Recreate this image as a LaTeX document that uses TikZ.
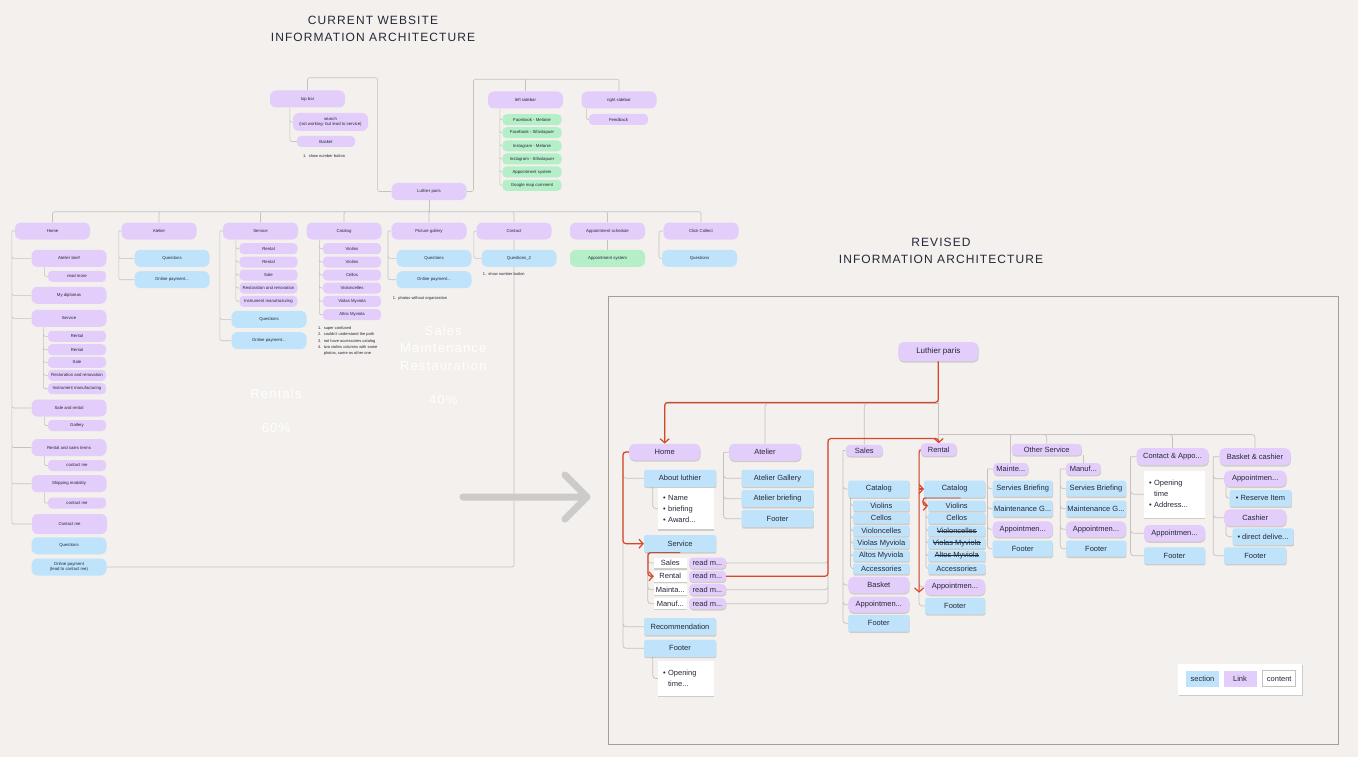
\documentclass[tikz,border=0pt]{standalone}
\usepackage{fontspec}
\setmainfont{Liberation Sans}
\newfontfamily\widefont[LetterSpace=9]{Liberation Sans}
\usetikzlibrary{arrows.meta,
    shadows,
    positioning}
\definecolor{paper}{HTML}{F3F0ED}
\definecolor{lilac}{HTML}{E3CDFA}
\definecolor{sky}{HTML}{BEE3FA}
\definecolor{mint}{HTML}{B4EFC8}
\definecolor{wiregray}{HTML}{C6C2BE}
\definecolor{rust}{HTML}{D9472B}
\definecolor{ink}{HTML}{252838}
\definecolor{framegray}{HTML}{A29E9A}
\definecolor{arrowgray}{HTML}{CDCBC9}
\pgfdeclarelayer{paperlayer}
\pgfdeclarelayer{wirelayer}
\pgfsetlayers{paperlayer,wirelayer,main}
\newcommand{\tinyfs}{\fontsize{4.3}{5.1}\selectfont}
\newcommand{\notefs}{\fontsize{4}{6.2}\selectfont}
\newcommand{\boxfs}{\fontsize{7.5}{11}\selectfont}
\newcommand{\titlefs}{\widefont\fontsize{12}{17}\selectfont}
\newcommand{\ghostfs}{\widefont\fontsize{13}{17.3}\selectfont}
\newcommand{\struck}[1]{\setbox0\hbox{#1}\rlap{\rule[0.3em]{\wd0}{0.55pt}}\box0}
\tikzset{
  oldlink/.style={fill=lilac, rounded corners=6pt, minimum width=75pt, minimum height=17pt, inner sep=0pt, font=\tinyfs, text=ink, align=center},
  oldsec/.style={oldlink, fill=sky},
  oldsub/.style={fill=lilac, rounded corners=4pt, minimum width=58pt, minimum height=11pt, inner sep=0pt, font=\tinyfs, text=ink},
  oldapp/.style={oldsub, fill=mint, minimum width=59pt},
  note/.style={anchor=west, inner sep=0pt, font=\notefs, text=ink, align=left},
  wire/.style={draw=wiregray, line width=0.6pt, rounded corners=2pt},
  wire2/.style={draw=wiregray, line width=0.75pt, rounded corners=3pt},
  redarrow/.style={draw=rust, line width=1.2pt, rounded corners=3pt, -{Straight Barb[length=4pt,width=9pt]}},
  soft/.style={drop shadow={shadow xshift=0.4pt, shadow yshift=-1.4pt, fill=black, opacity=0.15}},
  newlink/.style={soft, fill=lilac, rounded corners=5pt, minimum width=61pt, minimum height=16.5pt, inner sep=0pt, font=\boxfs, text=ink},
  newsec/.style={soft, fill=sky, rounded corners=1.5pt, minimum width=61pt, minimum height=16.5pt, inner sep=0pt, font=\boxfs, text=ink},
  newtext/.style={soft, fill=white, inner sep=0pt, font=\boxfs, text=ink, align=left},
  rowsec/.style={newsec, minimum width=56pt, minimum height=10.6pt, rounded corners=1pt},
  rowbox/.style={newtext, minimum width=32.7pt, minimum height=10.7pt, align=center},
  morelink/.style={newlink, minimum width=37pt, minimum height=11pt, rounded corners=4pt},
  legkey/.style={inner sep=0pt, minimum width=33pt, minimum height=16pt, font=\boxfs, text=ink},
  title/.style={font=\titlefs, text=ink, align=center},
  ghost/.style={font=\ghostfs, text=white, align=center},
}

\begin{document}
\begin{tikzpicture}[x=1pt, y=-1pt]
\begin{pgfonlayer}{paperlayer}
  \fill[paper] (0,0) rectangle (1358,757);
\end{pgfonlayer}
\useasboundingbox (0,0) rectangle (1358,757);

\node[title] (oldtitle) at (373,28.5) {CURRENT WEBSITE\\INFORMATION ARCHITECTURE};
\node[title] (newtitle) at (941,251) {REVISED\\INFORMATION ARCHITECTURE};

% current website: header and sidebars
\node[oldlink] (topbar) at (307.5,99) {top bar};
\node[oldlink, minimum height=18pt] (search) at (330.5,122) {search\\(not working- but lead to service)};
\node[oldsub] (basket) at (326,141.5) {Basket};
\node[note] (basketnote) at (303,155.7) {1.\ \ show number button};
\node[oldlink] (leftbar) at (525.5,100) {left sidebar};
\node[oldlink] (rightbar) at (619,100) {right sidebar};
\node[oldapp] (fbmel) at (532,119.7) {Facebook - Melanie};
\node[oldapp] (fbsif) at (532,132.7) {Facebook - Sifaslapuer};
\node[oldapp] (igmel) at (532,146) {Instagram - Melanie};
\node[oldapp] (igsif) at (532,159) {Instagram - Sifaslapuer};
\node[oldapp] (sideappt) at (532,172) {Appointment system};
\node[oldapp] (gmap) at (532,185.3) {Google map comment};
\node[oldsub, minimum width=59pt] (feedback) at (618.5,119.5) {Feedback};
\node[oldlink] (oldroot) at (429,191.5) {Luthier paris};

% current website: main menu
\node[oldlink] (home) at (52.5,231) {Home};
\node[oldlink] (atelier) at (159,231) {Atelier};
\node[oldlink] (service) at (260.5,231) {Service};
\node[oldlink] (catalog) at (344,231) {Catalog};
\node[oldlink] (gallery) at (429,231) {Picture gallery};
\node[oldlink] (contact) at (514,231) {Contact};
\node[oldlink] (schedule) at (607.5,231) {Appointment schedule};
\node[oldlink] (click) at (701,231) {Click Collect};

\node[oldlink] (brief) at (69,258.3) {Atelier brief};
\node[oldsub] (briefmore) at (77,276.3) {read more};
\node[oldlink] (diplomas) at (69,295.3) {My diplomas};
\node[oldlink] (homeserv) at (69,318.3) {Service};
\node[oldsub] (hsrent) at (77,336.3) {Rental};
\node[oldsub] (hsrent2) at (77,349.7) {Rental};
\node[oldsub] (hssale) at (77,362.3) {Sale};
\node[oldsub] (hsresto) at (77,375.3) {Restoration and renovation};
\node[oldsub] (hsmanuf) at (77,388.7) {Instrument manufacturing};
\node[oldlink] (salerent) at (69,408) {Sale and rental};
\node[oldsub] (hgallery) at (77,425.5) {Gallery};
\node[oldlink] (terms) at (69,447.5) {Rental and sales terms};
\node[oldsub] (termsmail) at (77,465.5) {contact me};
\node[oldlink] (shipping) at (69,483.7) {Shipping modality};
\node[oldsub] (shipmail) at (77,503) {contact me};
\node[oldlink, minimum height=20pt] (contactme) at (69.5,524) {Contact me};
\node[oldsec] (homequest) at (69,545.8) {Questions};
\node[oldsec] (homepay) at (69,567) {Online payment\\(lead to contact me)};

\node[oldsec] (atquest) at (172,258.3) {Questions};
\node[oldsec] (atpay) at (172,279.7) {Online payment...};

\node[oldsub] (svrent) at (268.5,248.7) {Rental};
\node[oldsub] (svrent2) at (268.5,262) {Rental};
\node[oldsub] (svsale) at (268.5,275) {Sale};
\node[oldsub] (svresto) at (268.5,288) {Restoration and renovation};
\node[oldsub] (svmanuf) at (268.5,301.3) {Instrument manufacturing};
\node[oldsec] (svquest) at (269,319.3) {Questions};
\node[oldsec] (svpay) at (269,340.7) {Online payment...};

\node[oldsub] (ctviol) at (352,248.7) {Violins};
\node[oldsub] (ctviol2) at (352,262) {Violins};
\node[oldsub] (ctcello) at (352,275) {Cellos};
\node[oldsub] (ctvcello) at (352,288) {Violoncelles};
\node[oldsub] (ctviola) at (352,301.3) {Violas Myviola};
\node[oldsub] (ctalto) at (352,314.7) {Altos Myviola};
\node[note, anchor=north west] (catnote) at (318,326.6) {1.\ \ super confused\\2.\ \ couldn't understand the path\\3.\ \ not have accessories catalog\\4.\ \ two violins columns with same\\\phantom{4.\ \ }photos, same as other one};

\node[oldsec] (galquest) at (434,258.3) {Questions};
\node[oldsec] (galpay) at (434,279.7) {Online payment...};
\node[note] (galnote) at (392.7,298.7) {1.\ \ photos without organization};
\node[oldsec] (conquest) at (519,258.3) {Questions\_2};
\node[note] (connote) at (482.7,274) {1.\ \ show number button};
\node[oldsec, fill=mint] (schedsys) at (607.5,258.3) {Appointment system};
\node[oldsec] (clquest) at (699.5,258.3) {Questions};

\node[ghost] (rentals) at (276,394) {Rentals};
\node[ghost] (rentshare) at (276,428.3) {60\%};
\node[ghost] (salesmix) at (443.3,348.3) {Sales\\Maintenance\\Restauration};
\node[ghost] (salesshare) at (443.3,400) {40\%};

\draw[arrowgray, line width=7pt, line cap=round, line join=round] (463,497) -- (586,497) (565,475) -- (587,497) -- (565,519);
\draw[framegray, line width=0.8pt] (608,296) rectangle (1338,744);

% revised architecture
\node[newlink, minimum width=80pt, minimum height=19pt, font=\fontsize{8}{9}\selectfont] (newroot) at (938.3,351.7) {Luthier paris};

\node[newlink, minimum width=71pt] (nhome) at (664.7,452) {Home};
\node[newsec, minimum width=72pt, minimum height=17pt] (nabout) at (680,478.3) {About luthier};
\node[newtext, text width=46pt, inner xsep=5pt, minimum height=41pt] (naboutinfo) at (686,508.7) {\textbullet\ Name\\\textbullet\ briefing\\\textbullet\ Award...};
\node[newsec, minimum width=72pt, minimum height=17pt] (nservice) at (680,543.7) {Service};
\node[rowbox] (nrowsales) at (670.3,563) {Sales};
\node[rowbox] (nrowrent) at (670.3,576.3) {Rental};
\node[rowbox] (nrowmaint) at (670.3,589.7) {Mainta...};
\node[rowbox] (nrowmanuf) at (670.3,603.7) {Manuf...};
\node[morelink] (nmoresales) at (707.5,563) {read m...};
\node[morelink] (nmorerent) at (707.5,576.3) {read m...};
\node[morelink] (nmoremaint) at (707.5,589.7) {read m...};
\node[morelink] (nmoremanuf) at (707.5,603.7) {read m...};
\node[newsec, minimum width=72pt, minimum height=17pt] (nrecom) at (680,626.7) {Recommendation};
\node[newsec, minimum width=72pt, minimum height=17pt] (nfooter) at (680,648.3) {Footer};
\node[newtext, text width=46pt, inner xsep=5pt, minimum height=35pt] (nfooterinfo) at (686,678.5) {\textbullet\ Opening\\\phantom{\textbullet\ }time...};

\node[newlink, minimum width=72pt, minimum height=17pt] (natelier) at (765,452.3) {Atelier};
\node[newsec, minimum width=72pt, minimum height=17pt] (natgallery) at (777.5,478.3) {Atelier Gallery};
\node[newsec, minimum width=72pt, minimum height=17pt] (natbrief) at (777.5,498.7) {Atelier briefing};
\node[newsec, minimum width=72pt, minimum height=17pt] (natfooter) at (777.5,518.7) {Footer};

\node[newlink, minimum width=37pt, minimum height=11.5pt, rounded corners=4pt] (nsales) at (864.3,450.5) {Sales};
\node[newsec, minimum height=17pt] (nscatalog) at (878.8,489) {Catalog};
\node[rowsec] (nsviolins) at (881.3,505.8) {Violins};
\node[rowsec] (nscellos) at (881.3,518.3) {Cellos};
\node[rowsec] (nsvcellos) at (881.3,531) {Violoncelles};
\node[rowsec] (nsviolas) at (881.3,543.3) {Violas Myviola};
\node[rowsec] (nsaltos) at (881.3,556) {Altos Myviola};
\node[rowsec] (nsaccess) at (881.3,568.8) {Accessories};
\node[newlink] (nsbasket) at (878.8,585) {Basket};
\node[newlink, minimum height=16pt] (nsappt) at (878.8,604.7) {Appointmen...};
\node[newsec] (nsfooter) at (878.8,623.3) {Footer};

\node[newlink, minimum width=36pt, minimum height=12.5pt, rounded corners=4pt] (nrental) at (938.7,449.7) {Rental};
\node[newsec, minimum height=17pt] (nrcatalog) at (954.7,489) {Catalog};
\node[rowsec, minimum width=57pt] (nrviolins) at (956.7,505.8) {Violins};
\node[rowsec, minimum width=57pt] (nrcellos) at (956.7,518.3) {Cellos};
\node[rowsec, minimum width=57pt] (nrvcellos) at (956.7,531) {\struck{Violoncelles}};
\node[rowsec, minimum width=57pt] (nrviolas) at (956.7,543.3) {\struck{Violas Myviola}};
\node[rowsec, minimum width=57pt] (nraltos) at (956.7,556) {\struck{Altos Myviola}};
\node[rowsec, minimum width=57pt] (nraccess) at (956.7,568.8) {Accessories};
\node[newlink, minimum width=60pt, minimum height=16pt] (nrappt) at (955,587) {Appointmen...};
\node[newsec, minimum width=60pt] (nrfooter) at (955,606) {Footer};

\node[newlink, minimum width=70pt, minimum height=11.5pt, rounded corners=4pt] (nother) at (1046.7,449.5) {Other Service};
\node[newlink, minimum width=35pt, minimum height=12pt, rounded corners=4pt] (nmaint) at (1010.8,469) {Mainte...};
\node[newsec, minimum width=60pt, minimum height=16pt] (nmbrief) at (1022.7,488.7) {Servies Briefing};
\node[newsec, minimum width=60pt, minimum height=16pt] (nmguide) at (1022.7,508.7) {Maintenance G...};
\node[newlink, minimum width=60pt, minimum height=16pt] (nmappt) at (1022.7,529.3) {Appointmen...};
\node[newsec, minimum width=60pt, minimum height=16pt] (nmfooter) at (1022.7,548.7) {Footer};
\node[newlink, minimum width=35pt, minimum height=12pt, rounded corners=4pt] (nmanuf) at (1083.3,469) {Manuf...};
\node[newsec, minimum width=60pt, minimum height=16pt] (nfbrief) at (1096,488.7) {Servies Briefing};
\node[newsec, minimum width=60pt, minimum height=16pt] (nfguide) at (1096,508.7) {Maintenance G...};
\node[newlink, minimum width=60pt, minimum height=16pt] (nfappt) at (1096,529.3) {Appointmen...};
\node[newsec, minimum width=60pt, minimum height=16pt] (nffooter) at (1096,548.7) {Footer};

\node[newlink, minimum width=72pt, minimum height=17pt] (ncontact) at (1172.5,456.7) {Contact \& Appo...};
\node[newtext, text width=51pt, inner xsep=5pt, minimum height=46.7pt] (ncinfo) at (1174.5,494.3) {\textbullet\ Opening\\\phantom{\textbullet\ }time\\\textbullet\ Address...};
\node[newlink] (ncappt) at (1174.5,533.3) {Appointmen...};
\node[newsec] (ncfooter) at (1174.5,555.7) {Footer};

\node[newlink, minimum width=71pt, minimum height=17pt] (nbasket) at (1255,456.7) {Basket \& cashier};
\node[newlink, minimum width=62pt, minimum height=16pt] (nbappt) at (1255.2,478.7) {Appointmen...};
\node[newsec, minimum width=62pt] (nbreserve) at (1260.5,498.3) {\textbullet\ Reserve Item};
\node[newlink, minimum width=62pt] (nbcashier) at (1255.2,517.7) {Cashier};
\node[newsec] (nbdirect) at (1263,536.7) {\textbullet\ direct delive...};
\node[newsec, minimum width=62pt] (nbfooter) at (1255.2,555.7) {Footer};

\node[newtext, minimum width=124pt, minimum height=31pt] (legend) at (1240.3,679.5) {};
\node[legkey, fill=sky] (legsection) at (1202.5,678.7) {section};
\node[legkey, fill=lilac] (leglink) at (1240,678.7) {Link};
\node[legkey, fill=white, draw=wiregray, line width=0.5pt] (legcontent) at (1279.2,678.7) {content};

\begin{pgfonlayer}{wirelayer}
  % old tree
  \draw[wire] (oldroot.west) -- ++(-13.7,0) |- ([yshift=12.5pt]topbar.north) -- (topbar.north);
  \draw[wire] ([xshift=20pt]topbar.south west) |- (search.west) ([xshift=20pt]topbar.south west) |- (basket.west);
  \draw[wire] (oldroot.east) -- ++(6.8,0) |- ([yshift=12pt]rightbar.north) -- (rightbar.north);
  \draw[wire] ([yshift=12pt]leftbar.north) -- (leftbar.north);
  \draw[wire] ([xshift=12pt]leftbar.south west) |- (fbmel.west) ([xshift=12pt]leftbar.south west) |- (fbsif.west)
    ([xshift=12pt]leftbar.south west) |- (igmel.west) ([xshift=12pt]leftbar.south west) |- (igsif.west)
    ([xshift=12pt]leftbar.south west) |- (sideappt.west) ([xshift=12pt]leftbar.south west) |- (gmap.west);
  \draw[wire] ([xshift=5pt]rightbar.south west) |- (feedback.west);
  \draw[wire] (oldroot.south) -- ++(0,11.5) coordinate (oldbus);
  \draw[wire] (oldbus) -| (home.north) (oldbus) -| (atelier.north) (oldbus) -| (service.north) (oldbus) -| (catalog.north)
    (oldbus) -| (gallery.north) (oldbus) -| (contact.north) (oldbus) -| (schedule.north) (oldbus) -| (click.north);
  \draw[wire] (home.west) -- ++(-3,0) coordinate (homeline)
    (homeline) |- (brief.west) (homeline) |- (diplomas.west) (homeline) |- (homeserv.west) (homeline) |- (salerent.west)
    (homeline) |- (terms.west) (homeline) |- (shipping.west) (homeline) |- (contactme.west);
  \draw[wire] ([xshift=13pt]brief.south west) |- (briefmore.west);
  \draw[wire] ([xshift=12pt]homeserv.south west) |- (hsrent.west) ([xshift=12pt]homeserv.south west) |- (hsrent2.west)
    ([xshift=12pt]homeserv.south west) |- (hssale.west) ([xshift=12pt]homeserv.south west) |- (hsresto.west)
    ([xshift=12pt]homeserv.south west) |- (hsmanuf.west);
  \draw[wire] ([xshift=13pt]salerent.south west) |- (hgallery.west);
  \draw[wire] ([xshift=13pt]terms.south west) |- (termsmail.west);
  \draw[wire] ([xshift=13pt]shipping.south west) |- (shipmail.west);
  \draw[wire] (contact.south) |- (homepay.east);
  \draw[wire] (atelier.west) -- ++(-2.5,0) coordinate (atline) (atline) |- (atquest.west) (atline) |- (atpay.west);
  \draw[wire] (service.west) -- ++(-3,0) coordinate (svline) (svline) |- (svquest.west) (svline) |- (svpay.west);
  \draw[wire] ([xshift=13pt]service.south west) |- (svrent.west) ([xshift=13pt]service.south west) |- (svrent2.west)
    ([xshift=13pt]service.south west) |- (svsale.west) ([xshift=13pt]service.south west) |- (svresto.west)
    ([xshift=13pt]service.south west) |- (svmanuf.west);
  \draw[wire] ([xshift=13pt]catalog.south west) |- (ctviol.west) ([xshift=13pt]catalog.south west) |- (ctviol2.west)
    ([xshift=13pt]catalog.south west) |- (ctcello.west) ([xshift=13pt]catalog.south west) |- (ctvcello.west)
    ([xshift=13pt]catalog.south west) |- (ctviola.west) ([xshift=13pt]catalog.south west) |- (ctalto.west);
  \draw[wire] (gallery.west) -- ++(-3.3,0) coordinate (galline) (galline) |- (galquest.west) (galline) |- (galpay.west);
  \draw[wire] (contact.west) -- ++(-2.5,0) |- (conquest.west);
  \draw[wire] (schedule.south) -- (schedsys.north);
  \draw[wire] (click.west) -- ++(-4.3,0) |- (clquest.west);

  % new tree
  \draw[wire2] (newroot.south) -- ++(0,42) coordinate (newbus) -- ++(0,31) coordinate (newbus2);
  \draw[wire2] (newbus) -| (nhome.north) (newbus) -| (natelier.north) (newbus) -| (nsales.north);
  \draw[wire2] (newbus2) -| (nother.north) (newbus2) -| (ncontact.north) (newbus2) -| (nbasket.north);
  \draw[wire2] (newbus2) -- (nrental.north);
  \draw[wire2] (newbus2 -| nmaint.north) -- (nmaint.north);
  \draw[wire2] (nother.south -| nmanuf.north) -- (nmanuf.north);
  \draw[wire2] (nhome.west) -- ++(-6,0) coordinate (nhline)
    (nhline) |- (nabout.west) (nhline) |- (nrecom.west) (nhline) |- (nfooter.west);
  \draw[wire2] ([xshift=9pt]nabout.south west) |- (naboutinfo.west);
  \draw[wire2] ([xshift=4pt]nservice.south west) |- (nrowsales.west) ([xshift=4pt]nservice.south west) |- (nrowrent.west)
    ([xshift=4pt]nservice.south west) |- (nrowmaint.west) ([xshift=4pt]nservice.south west) |- (nrowmanuf.west);
  \draw[wire2] ([xshift=9pt]nfooter.south west) |- (nfooterinfo.west);
  \coordinate (relay) at (828,438.5);
  \draw[wire2] (nmoresales.east) -| (relay) (nmoremaint.east) -| (relay) (nmoremanuf.east) -| (relay);
  \draw[wire2] (natelier.west) -- ++(-5.3,0) coordinate (natline)
    (natline) |- (natgallery.west) (natline) |- (natbrief.west) (natline) |- (natfooter.west);
  \draw[wire2] (nsales.west) -- ++(-2.7,0) coordinate (nsline)
    (nsline) |- (nscatalog.west) (nsline) |- (nsbasket.west) (nsline) |- (nsappt.west) (nsline) |- (nsfooter.west);
  \draw[wire2] ([xshift=2.5pt]nscatalog.south west) |- (nsviolins.west) ([xshift=2.5pt]nscatalog.south west) |- (nscellos.west)
    ([xshift=2.5pt]nscatalog.south west) |- (nsvcellos.west) ([xshift=2.5pt]nscatalog.south west) |- (nsviolas.west)
    ([xshift=2.5pt]nscatalog.south west) |- (nsaltos.west) ([xshift=2.5pt]nscatalog.south west) |- (nsaccess.west);
  \draw[wire2] (nrental.west) -- ++(-1.4,0) coordinate (nrline)
    (nrline) |- (nrcatalog.west) (nrline) |- (nrappt.west) (nrline) |- (nrfooter.west);
  \draw[wire2] ([xshift=2pt]nrcatalog.south west) |- (nrviolins.west) ([xshift=2pt]nrcatalog.south west) |- (nrcellos.west)
    ([xshift=2pt]nrcatalog.south west) |- (nrvcellos.west) ([xshift=2pt]nrcatalog.south west) |- (nrviolas.west)
    ([xshift=2pt]nrcatalog.south west) |- (nraltos.west) ([xshift=2pt]nrcatalog.south west) |- (nraccess.west);
  \draw[wire2] (nmaint.west) -- ++(-5.7,0) coordinate (nmline)
    (nmline) |- (nmbrief.west) (nmline) |- (nmguide.west) (nmline) |- (nmappt.west) (nmline) |- (nmfooter.west);
  \draw[wire2] (nmanuf.west) -- ++(-5.3,0) coordinate (nfline)
    (nfline) |- (nfbrief.west) (nfline) |- (nfguide.west) (nfline) |- (nfappt.west) (nfline) |- (nffooter.west);
  \draw[wire2] (ncontact.west) -- ++(-5.7,0) coordinate (ncline)
    (ncline) |- (ncinfo.west) (ncline) |- (ncappt.west) (ncline) |- (ncfooter.west);
  \draw[wire2] (nbasket.west) -- ++(-6,0) coordinate (nbline)
    (nbline) |- (nbappt.west) (nbline) |- (nbcashier.west) (nbline) |- (nbfooter.west);
  \draw[wire2] ([xshift=2pt]nbappt.south west) |- (nbreserve.west);
  \draw[wire2] ([xshift=2pt]nbcashier.south west) |- (nbdirect.west);

  % user path in red
  \draw[redarrow] (newroot.south) -- ++(0,41) -| (nhome.north);
  \draw[redarrow] (nhome.west) -- ++(-6,0) |- (nservice.west);
  \draw[redarrow] (nservice.south) -- ++(-32,0) |- (nrowrent.west);
  \draw[redarrow] (nmorerent.east) -| (relay) -| (nrental.north);
  \draw[redarrow] (nrental.west) -- ++(-1.4,0) coordinate (nrtrunk) -- ++(0,143);
  \draw[redarrow] (nrtrunk |- nrcatalog.west) -- (nrcatalog.west);
  \draw[redarrow] ([xshift=6pt]nrcatalog.south) -| ([xshift=-5pt]nrviolins.west) -- (nrviolins.west);
\end{pgfonlayer}
\end{tikzpicture}
\end{document}
